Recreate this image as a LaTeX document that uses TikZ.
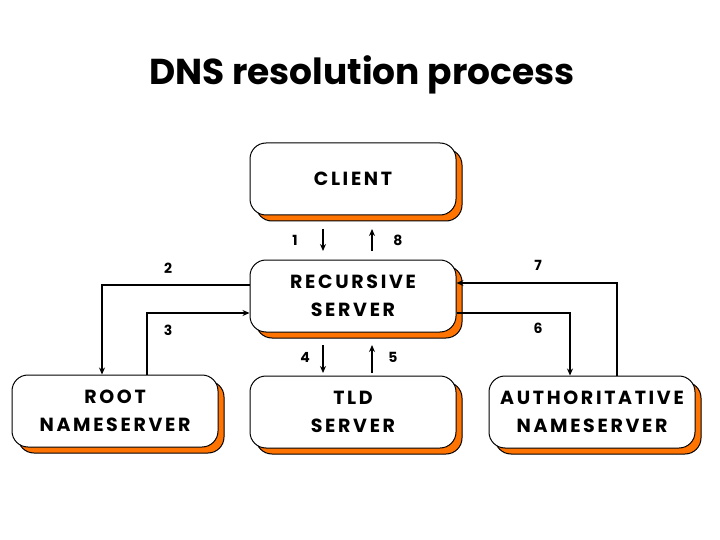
\documentclass[tikz,border=0pt]{standalone}
\usepackage{fontspec}
\setmainfont{Poppins}
\usetikzlibrary{arrows.meta}
\begin{document}
\begin{tikzpicture}[x=1pt,y=-1pt,
  box/.style={draw=black,line width=1pt,rounded corners=16pt,fill=white,minimum width=206pt,minimum height=72pt,align=center,font=\fontsize{19}{28}\selectfont\addfontfeatures{LetterSpace=14}\bfseries},
  conn/.style={line width=1.3pt,-{Stealth[length=7pt,width=6pt]}},
  lab/.style={font=\fontsize{14}{15}\selectfont\bfseries}]
\useasboundingbox (0,0) rectangle (720,540);
\node[font=\fontsize{36}{40}\selectfont\bfseries] (title) at (362,75) {DNS resolution process};
\foreach \n/\x/\y/\t in {client/353/179/CLIENT, rec/353/296/RECURSIVE\\SERVER, root/115/411/ROOT\\NAMESERVER, tld/353/412/TLD\\SERVER, auth/592/412/AUTHORITATIVE\\NAMESERVER}{
  \fill[orange!90!red, draw=black, line width=1pt, rounded corners=16pt] (\x-97,\y-30) rectangle (\x+109,\y+42);
  \node[box] (\n) at (\x,\y) {\t};
}
\coordinate (a1) at (323,229); \coordinate (b1) at (323,251);
\coordinate (a8) at (372,251); \coordinate (b8) at (372,229);
\draw[conn] (a1) -- (b1); \draw[conn] (a8) -- (b8);
\coordinate (a4) at (323,345); \coordinate (b4) at (323,373);
\coordinate (a5) at (372,373); \coordinate (b5) at (372,345);
\draw[conn] (a4) -- (b4); \draw[conn] (a5) -- (b5);
\node[lab] (l1) at (295,240) {1}; \node[lab] (l8) at (398,240) {8};
\node[lab] (l4) at (305,357) {4}; \node[lab] (l5) at (393,357) {5};
\draw[conn] (rec.west |- 0,285) -| (root.north -| 102,0);
\draw[conn] (root.north -| 147,0) |- (rec.west |- 0,313);
\draw[conn] (rec.east |- 0,313) -| (auth.north -| 570,0);
\draw[conn] (auth.north -| 617,0) |- (rec.east |- 0,283);
\node[lab] (l2) at (168,268) {2}; \node[lab] (l3) at (168,330) {3};
\node[lab] (l6) at (538,328) {6}; \node[lab] (l7) at (538,265) {7};
\end{tikzpicture}
\end{document}
